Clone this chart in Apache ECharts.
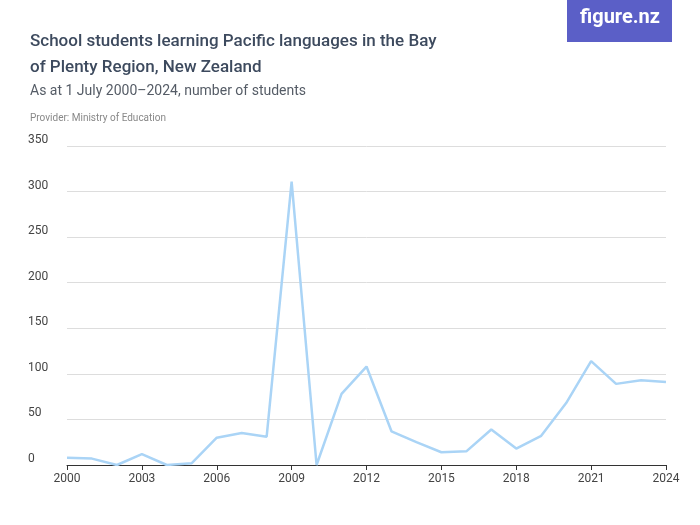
<!DOCTYPE html>
<html>
<head>
<meta charset="utf-8">
<script src="https://cdn.jsdelivr.net/npm/echarts@6/dist/echarts.min.js"></script>
<style>
  html, body { margin: 0; padding: 0; background: #fff; }
  #chart { width: 700px; height: 525px; }
</style>
</head>
<body>
<div id="chart"></div>
<script>
var years = ['2000','2001','2002','2003','2004','2005','2006','2007','2008','2009','2010','2011','2012',
  '2013','2014','2015','2016','2017','2018','2019','2020','2021','2022','2023','2024'];
var students = [8, 7, 0, 12, 0, 2, 30, 35, 31, 311, 0, 78, 108, 37, 25, 14, 15, 39, 18, 32, 68, 114, 89, 93, 91];
var yTicks = [0, 50, 100, 150, 200, 250, 300, 350];

var chart = echarts.init(document.getElementById('chart'));

var option = {
  backgroundColor: '#ffffff',
  animation: false,
  title: [{
    text: 'School students learning Pacific languages in the Bay\nof Plenty Region, New Zealand',
    left: 25, top: 24,
    textStyle: { fontFamily: 'Roboto', fontSize: 17, fontWeight: 500, color: '#3d4a5e', lineHeight: 26 }
  }, {
    text: 'As at 1 July 2000–2024, number of students',
    left: 25, top: 79,
    textStyle: { fontFamily: 'Roboto', fontSize: 14, fontWeight: 'normal', color: '#555c66' }
  }, {
    text: 'Provider: Ministry of Education',
    left: 25, top: 108,
    textStyle: { fontFamily: 'Roboto', fontSize: 10, fontWeight: 'normal', color: '#888' }
  }],
  graphic: [{
    type: 'rect', right: 28, top: 0,
    shape: { width: 105, height: 42 },
    style: { fill: '#5b5fc7' }
  }, {
    type: 'text', right: 40, top: 8,
    style: { text: 'figure.nz', fill: '#fff', font: 'bold 20px Roboto' }
  }],
  grid: { left: 67, right: 34, top: 146, bottom: 60, containLabel: false },
  xAxis: {
    type: 'category',
    data: years,
    boundaryGap: false,
    axisLine: { lineStyle: { color: '#333' } },
    axisTick: { show: true, interval: 2, length: 5, lineStyle: { color: '#333' } },
    axisLabel: { interval: 2, color: '#444', fontFamily: 'Roboto', fontSize: 12 },
    splitLine: { show: false }
  },
  yAxis: {
    type: 'value',
    min: 0, max: 350, interval: 50,
    axisLine: { show: false },
    axisTick: { show: false },
    axisLabel: {
      color: '#444', fontFamily: 'Roboto', fontSize: 12,
      align: 'left', margin: 39, verticalAlign: 'bottom',
      formatter: function (v) { return yTicks.indexOf(v) >= 0 ? String(v) : ''; }
    },
    splitLine: { lineStyle: { color: '#dddddd' } }
  },
  series: [{
    type: 'line',
    data: students,
    showSymbol: false,
    lineStyle: { color: '#aad4f6', width: 2.5 },
    itemStyle: { color: '#aad4f6' }
  }]
};

chart.setOption(option);
</script>
</body>
</html>
